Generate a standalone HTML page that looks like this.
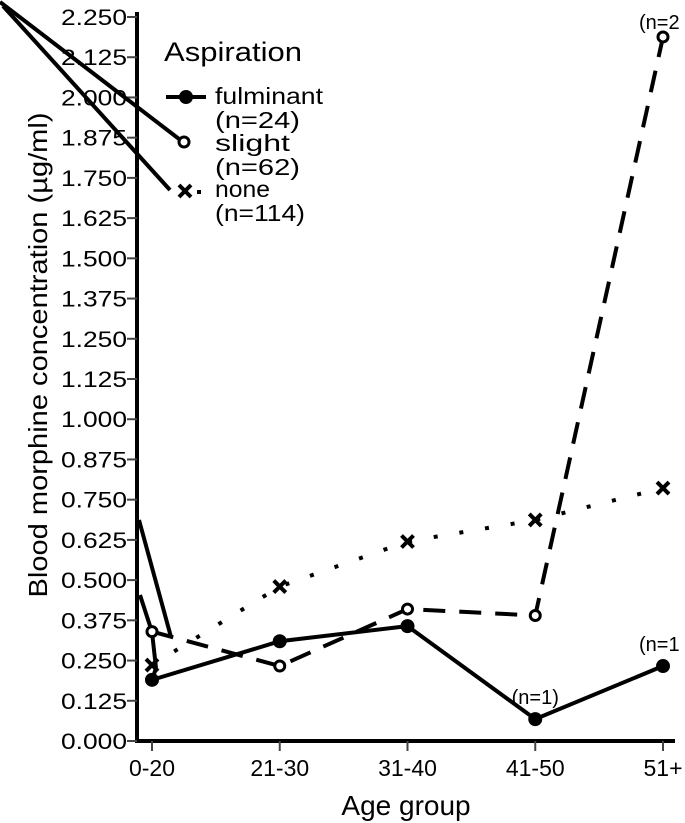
<!DOCTYPE html>
<html><head><meta charset="utf-8"><style>
html,body{margin:0;padding:0;background:#fff;}
svg{display:block;font-family:"Liberation Sans",Arial,sans-serif;}
</style></head><body>
<svg id="chart" width="685" height="823" viewBox="0 0 685 823" xmlns="http://www.w3.org/2000/svg"></svg>
<script>
const categories = ["0-20","21-30","31-40","41-50","51+"];
const fulminant = [0.19, 0.31, 0.357, 0.068, 0.233];
const slight = [0.34, 0.233, 0.41, 0.39, 2.188];
const none = [0.236, 0.48, 0.62, 0.687, 0.786];
const yTicks = ["0.000","0.125","0.250","0.375","0.500","0.625","0.750","0.875","1.000","1.125","1.250","1.375","1.500","1.625","1.750","1.875","2.000","2.125","2.250"];

const svg = document.getElementById('chart');
const NS = "http://www.w3.org/2000/svg";
const x0 = 137, y0 = 741, yTop = 17, yMax = 2.25;
const xPos = [152, 280, 407, 536, 663];
function xs(i){ return xPos[0] + i*(xPos[4]-xPos[0])/(categories.length-1); }
function ys(v){ return y0 - v*(y0-yTop)/yMax; }
function mk(tag, attrs, parent){
  const e = document.createElementNS(NS, tag);
  for (const k in attrs) e.setAttribute(k, attrs[k]);
  (parent||svg).appendChild(e); return e;
}
let ax = mk('line',{x1:x0,y1:12,x2:x0,y2:y0+2,stroke:'#000','stroke-width':4});


let axx = mk('line',{x1:x0-2,y1:y0,x2:675,y2:y0,stroke:'#000','stroke-width':4});


yTicks.forEach((t,i)=>{
  const v = parseFloat(t), y = ys(v);
  const l = mk('line',{x1:x0-10,y1:y,x2:x0,y2:y,stroke:'#444','stroke-width':2});
  
  
  const tx = mk('text',{x:x0-76,y:y+8,'font-size':22,fill:'#000',textLength:66,lengthAdjust:'spacingAndGlyphs'});
  tx.textContent = t;
  
  
});
categories.forEach((c,i)=>{
  const x = xs(i);
  const l = mk('line',{x1:x,y1:y0,x2:x,y2:y0+10,stroke:'#444','stroke-width':2});
  
  
  const tx = mk('text',{x:x,y:y0+35,'text-anchor':'middle','font-size':23,fill:'#000'});
  tx.textContent = c;
  
  
});
let xt = mk('text',{x:406,y:815,'text-anchor':'middle','font-size':28,fill:'#000'});
xt.textContent='Age group';


let yt = mk('text',{x:0,y:0,'text-anchor':'middle','font-size':26,fill:'#000',textLength:485,lengthAdjust:'spacingAndGlyphs',transform:'translate(47,355) rotate(-90)'});
yt.textContent='Blood morphine concentration (µg/ml)';



[[0,2,183,142],[3,6,170,190],[139,520,171,637],[140,595,152,632],[152,632,156,668],[156,668,152,680]].forEach(s=>{
  const l = mk('line',{x1:s[0],y1:s[1],x2:s[2],y2:s[3],stroke:'#000','stroke-width':4});
  
  
});

function series(vals, dash, marker, name){
  const pts = vals.map((v,i)=>xs(i)+','+ys(v)).join(' ');
  const pl = mk('polyline',{points:pts,fill:'none',stroke:'#000','stroke-width':4,'stroke-dasharray':dash});
  
  
  vals.forEach((v,i)=>{ drawMarker(xs(i), ys(v), marker, name+'-point'); });
}
function drawMarker(x,y,type,name){
  let e;
  if (type==='dot') e = mk('circle',{cx:x,cy:y,r:7,fill:'#000'});
  else if (type==='circle') e = mk('circle',{cx:x,cy:y,r:5,fill:'#fff',stroke:'#000','stroke-width':3});
  else { e = mk('path',{d:`M${x-6},${y-6}L${x+6},${y+6}M${x+6},${y-6}L${x-6},${y+6}`,stroke:'#000','stroke-width':4,fill:'none'}); }
  
  
}
series(none,'4 22','x','none');
series(slight,'22 14','circle','slight');
series(fulminant,'none','dot','fulminant');

[[xs(3), ys(fulminant[3])-15,'(n=1)','middle'],[xs(4)-24, ys(fulminant[4])-15,'(n=1','start'],[xs(4)-24, ys(slight[4])-8,'(n=2','start']].forEach(a=>{
  const t = mk('text',{x:a[0],y:a[1],'text-anchor':a[3],'font-size':20,fill:'#000'});
  t.textContent=a[2];
  
  
});

const lg = mk('g',{});


let lt = mk('text',{x:164,y:61,'font-size':27,fill:'#000',textLength:138,lengthAdjust:'spacingAndGlyphs'},lg); lt.textContent='Aspiration';


let ll = mk('line',{x1:166,y1:97,x2:206,y2:97,stroke:'#000','stroke-width':4},lg);


drawMarker(186,97,'dot','legend-marker-fulminant');
drawMarker(184,142,'circle','legend-marker-slight');
drawMarker(185,191,'x','legend-marker-none');
mk('rect',{x:197,y:190,width:4,height:4,fill:'#000'},lg);
[['fulminant',96,108],['(n=24)',120,85],['slight',143,75],['(n=62)',167,85],['none',189,55],['(n=114)',213,90]].forEach(r=>{
  const t = mk('text',{x:215,y:r[1]+8,'font-size':23,fill:'#000',textLength:r[2],lengthAdjust:'spacingAndGlyphs'},lg);
  t.textContent=r[0];
  
  
});
</script>
</body></html>
